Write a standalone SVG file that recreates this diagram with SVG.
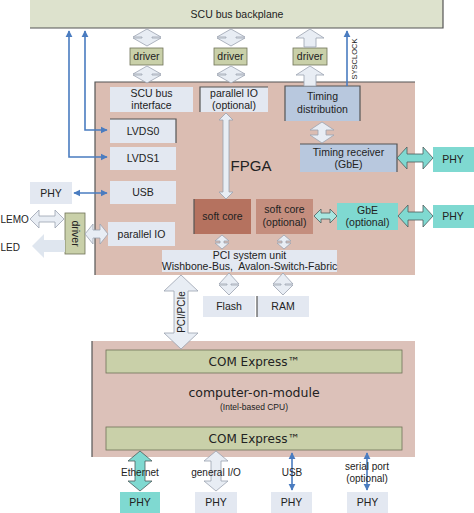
<svg xmlns="http://www.w3.org/2000/svg" width="474" height="513" viewBox="0 0 474 513">
<defs>
<marker id="bh" viewBox="0 0 10 10" refX="9" refY="5" markerWidth="4.5" markerHeight="4.5" orient="auto-start-reverse"><path d="M0,0 L10,5 L0,10 Z" fill="#4a7cc0"/></marker>
<style>
text{font-family:"Liberation Sans",Arial,sans-serif;font-size:10.5px;fill:#222;text-anchor:middle}
.v{font-family:"DejaVu Sans",Verdana,sans-serif}
.lb{fill:#e3e8f1}
.ol{fill:#c9d0a9;stroke:#6f7257;stroke-width:0.8}
.tl{fill:#7fd9d1}
.la{fill:#e8edf4;stroke:#9aa2b0;stroke-width:0.8}
.ta{fill:#7fd9d1;stroke:#4d5a5a;stroke-width:0.8}
.bl{fill:none;stroke:#4a7cc0;stroke-width:1.6}
.ed{stroke:#555;stroke-width:1.2;fill:none}
</style>
</defs>

<g id="backplane">
<rect x="30" y="0" width="413" height="28" fill="#dde2cd"/>
<path class="ed" d="M30,28 H443 V0"/>
<text x="237" y="18">SCU bus backplane</text>
</g>

<g id="fpga">
<rect x="95" y="82" width="320" height="193" fill="#dbbdb2"/>
<path class="ed" d="M95,275 V82 H415"/>
<text x="251" y="171" style="font-size:15px">FPGA</text>
</g>

<g id="com">
<rect x="92" y="341" width="323" height="116" fill="#dcc1b9"/>
<path class="ed" d="M92,457 V341"/>
<text class="v" x="254" y="397" style="font-size:12.5px">computer-on-module</text>
<text x="254" y="410" style="font-size:8.5px">(Intel-based CPU)</text>
</g>
<g id="comexp1"><rect x="106" y="350" width="296" height="23" class="ol"/><text class="v" x="254" y="366" style="font-size:12px">COM Express™</text></g>
<g id="comexp2"><rect x="106" y="427" width="296" height="23" class="ol"/><text class="v" x="254" y="443" style="font-size:12px">COM Express™</text></g>

<g id="driver1"><rect x="130" y="48" width="33" height="17" class="ol"/><text x="146.5" y="60">driver</text></g>
<g id="driver2"><rect x="214" y="48" width="33" height="17" class="ol"/><text x="230.5" y="60">driver</text></g>
<g id="driver3"><rect x="293" y="48" width="34" height="17" class="ol"/><text x="310" y="60">driver</text></g>

<g id="scuif"><rect x="110" y="87" width="83" height="25" class="lb"/><text x="151.5" y="97">SCU bus</text><text x="151.5" y="109">interface</text></g>
<g id="pario-opt"><rect x="200" y="87" width="68" height="25" class="lb"/><path class="ed" d="M200,112 V87 H268" stroke-width="0.8"/><text x="234" y="97">parallel IO</text><text x="234" y="109">(optional)</text></g>
<g id="timing"><rect x="285" y="86" width="75" height="35" fill="#b8c8de"/><path class="ed" d="M285,121 V86 H360 V121" stroke-width="0.8"/><text x="322.5" y="100">Timing</text><text x="322.5" y="113">distribution</text></g>
<g id="timrx"><rect x="300" y="144" width="97" height="28" fill="#b8c8de"/><path class="ed" d="M300,144 H397 V172" stroke-width="0.8"/><text x="348.5" y="156">Timing receiver</text><text x="348.5" y="168">(GbE)</text></g>
<g id="phy1"><rect x="433" y="147" width="41" height="25" class="tl"/><text x="453" y="163">PHY</text></g>

<g id="lvds0"><rect x="110" y="119" width="66" height="24" class="lb"/><path class="ed" d="M110,119 H176 V143" stroke-width="0.8"/><text x="143" y="135">LVDS0</text></g>
<g id="lvds1"><rect x="110" y="147" width="66" height="23" class="lb"/><text x="143" y="162">LVDS1</text></g>
<g id="usb"><rect x="110" y="181" width="66" height="23" class="lb"/><text x="143" y="196">USB</text></g>
<g id="pario"><rect x="108" y="222" width="67" height="24" class="lb"/><text x="141.5" y="238">parallel IO</text></g>
<g id="phyusb"><rect x="30" y="182" width="42" height="22" class="lb"/><text x="51" y="197">PHY</text></g>
<g id="driver4"><rect x="65" y="213" width="20" height="41" class="ol"/><text transform="translate(71.5,233.5) rotate(90)" x="0" y="0">driver</text></g>
<g id="lemo"><text x="0.5" y="223" style="text-anchor:start;font-size:10px">LEMO</text></g>
<g id="led"><text x="0.5" y="251" style="text-anchor:start;font-size:10px">LED</text></g>

<g id="softcore"><rect x="194" y="199" width="57" height="35" fill="#b5725f"/><path class="ed" d="M194,234 V199" stroke-width="0.8"/><text x="222.5" y="220">soft core</text></g>
<g id="softcore2"><rect x="256" y="199" width="57" height="35" fill="#c48e7e"/><text x="284.5" y="213">soft core</text><text x="284.5" y="226">(optional)</text></g>
<g id="gbe"><rect x="337" y="203" width="61" height="27" class="tl"/><text x="367.5" y="214">GbE</text><text x="367.5" y="226">(optional)</text></g>
<g id="phy2"><rect x="433" y="205" width="41" height="23" class="tl"/><text x="453" y="220">PHY</text></g>
<g id="pci"><rect x="162" y="250" width="175" height="22" class="lb"/><text x="249.5" y="259">PCI system unit</text><text x="249.5" y="270" xml:space="preserve">Wishbone-Bus,  Avalon-Switch-Fabric</text></g>
<g id="flash"><rect x="203" y="296" width="52" height="21" class="lb"/><text x="229" y="310">Flash</text></g>
<g id="ram"><rect x="257" y="296" width="52" height="21" class="lb"/><path class="ed" d="M257,296 V317" stroke-width="0.8"/><text x="283" y="310">RAM</text></g>

<g id="phyb1"><rect x="120" y="492" width="40" height="21" class="tl"/><text x="140" y="506">PHY</text></g>
<g id="phyb2"><rect x="195" y="492" width="42" height="21" class="lb"/><text x="216" y="506">PHY</text></g>
<g id="phyb3"><rect x="271" y="492" width="41" height="21" class="lb"/><text x="291.5" y="506">PHY</text></g>
<g id="phyb4"><rect x="347" y="492" width="41" height="21" class="lb"/><text x="367.5" y="506">PHY</text></g>

<g id="connectors">
<path class="bl" d="M69,31 V157 H107" marker-start="url(#bh)" marker-end="url(#bh)"/>
<path class="bl" d="M85,31 V130 H107" marker-start="url(#bh)" marker-end="url(#bh)"/>
<path class="bl" d="M347,86 V31" marker-end="url(#bh)"/>
<path class="bl" d="M74,193 H107" marker-start="url(#bh)" marker-end="url(#bh)"/>
<path class="bl" d="M292,453 V490" marker-start="url(#bh)" marker-end="url(#bh)"/>
<path class="bl" d="M367,453 V490" marker-start="url(#bh)" marker-end="url(#bh)"/>
<text transform="translate(357,59) rotate(-90)" style="font-size:7.5px">SYSCLOCK</text>

<path class="la" d="M147,29 L161,37 L152,37 L152,38 L161,38 L147,46 L133,38 L142,38 L142,37 L133,37 Z"/>
<path class="la" d="M147,66 L161,74 L152,74 L152,75 L161,75 L147,83 L133,75 L142,75 L142,74 L133,74 Z"/>
<path class="la" d="M231,29 L245,37 L236,37 L236,38 L245,38 L231,46 L217,38 L226,38 L226,37 L217,37 Z"/>
<path class="la" d="M231,66 L245,74 L236,74 L236,75 L245,75 L231,83 L217,75 L226,75 L226,74 L217,74 Z"/>
<path class="la" d="M310,29 L324,38 L316,38 L316,47 L304,47 L304,38 L296,38 Z"/>
<path class="la" d="M310,66 L324,75 L316,75 L316,86 L304,86 L304,75 L296,75 Z"/>

<path class="la" d="M226,113 L233,120 L229,120 L229,192 L233,192 L226,199 L219,192 L223,192 L223,120 L219,120 Z"/>
<path class="la" d="M322,122 L334,130 L326,130 L326,135 L334,135 L322,143 L310,135 L318,135 L318,130 L310,130 Z"/>
<path class="ta" d="M397,158 L407,147 L407,154 L423,154 L423,147 L433,158 L423,169 L423,162 L407,162 L407,169 Z"/>
<path d="M314,216 L321,209 L321,213 L330,213 L330,209 L337,216 L330,223 L330,219 L321,219 L321,223 Z" fill="#a8e6e0" stroke="#4d5a5a" stroke-width="0.8"/>
<path class="ta" d="M398,216 L408,205 L408,212 L423,212 L423,205 L433,216 L423,227 L423,220 L408,220 L408,227 Z"/>
<path class="la" d="M85,234 L93,224 L93,230 L100,230 L100,224 L108,234 L100,244 L100,238 L93,238 L93,244 Z"/>
<path class="la" d="M30,219 L39,210 L39,216 L55,216 L55,210 L64,219 L55,228 L55,222 L39,222 L39,228 Z"/>
<path d="M32,246 L44,234 L44,240 L65,240 L65,252 L44,252 L44,258 Z" fill="#dfe6ef"/>
<path class="la" d="M222,235 L229,241 L224,241 L224,243 L229,243 L222,249 L215,243 L220,243 L220,241 L215,241 Z"/>
<path class="la" d="M284,235 L291,241 L286,241 L286,243 L291,243 L284,249 L277,243 L282,243 L282,241 L277,241 Z"/>
<path class="la" d="M229,273 L239,284 L231,284 L231,285 L239,285 L229,295 L219,285 L227,285 L227,284 L219,284 Z"/>
<path class="la" d="M283,273 L293,284 L285,284 L285,285 L293,285 L283,295 L273,285 L281,285 L281,284 L273,284 Z"/>

<path class="la" d="M181,275 L198,291 L188,291 L188,333 L198,333 L181,349 L164,333 L174,333 L174,291 L164,291 Z"/>
<text transform="translate(185,312) rotate(-90)" style="font-size:10px">PCI/PCIe</text>

<path class="ta" d="M140,451 L152,461 L145,461 L145,481 L152,481 L140,491 L128,481 L135,481 L135,461 L128,461 Z"/>
<path class="la" d="M216,451 L228,461 L221,461 L221,481 L228,481 L216,491 L204,481 L211,481 L211,461 L204,461 Z"/>
<text x="140" y="476" style="font-size:10px">Ethernet</text>
<text x="216" y="476" style="font-size:10px">general I/O</text>
<text x="292" y="476" style="font-size:10px">USB</text>
<text x="367" y="470" style="font-size:10px">serial port</text>
<text x="367" y="482" style="font-size:10px">(optional)</text>
</g>
</svg>
